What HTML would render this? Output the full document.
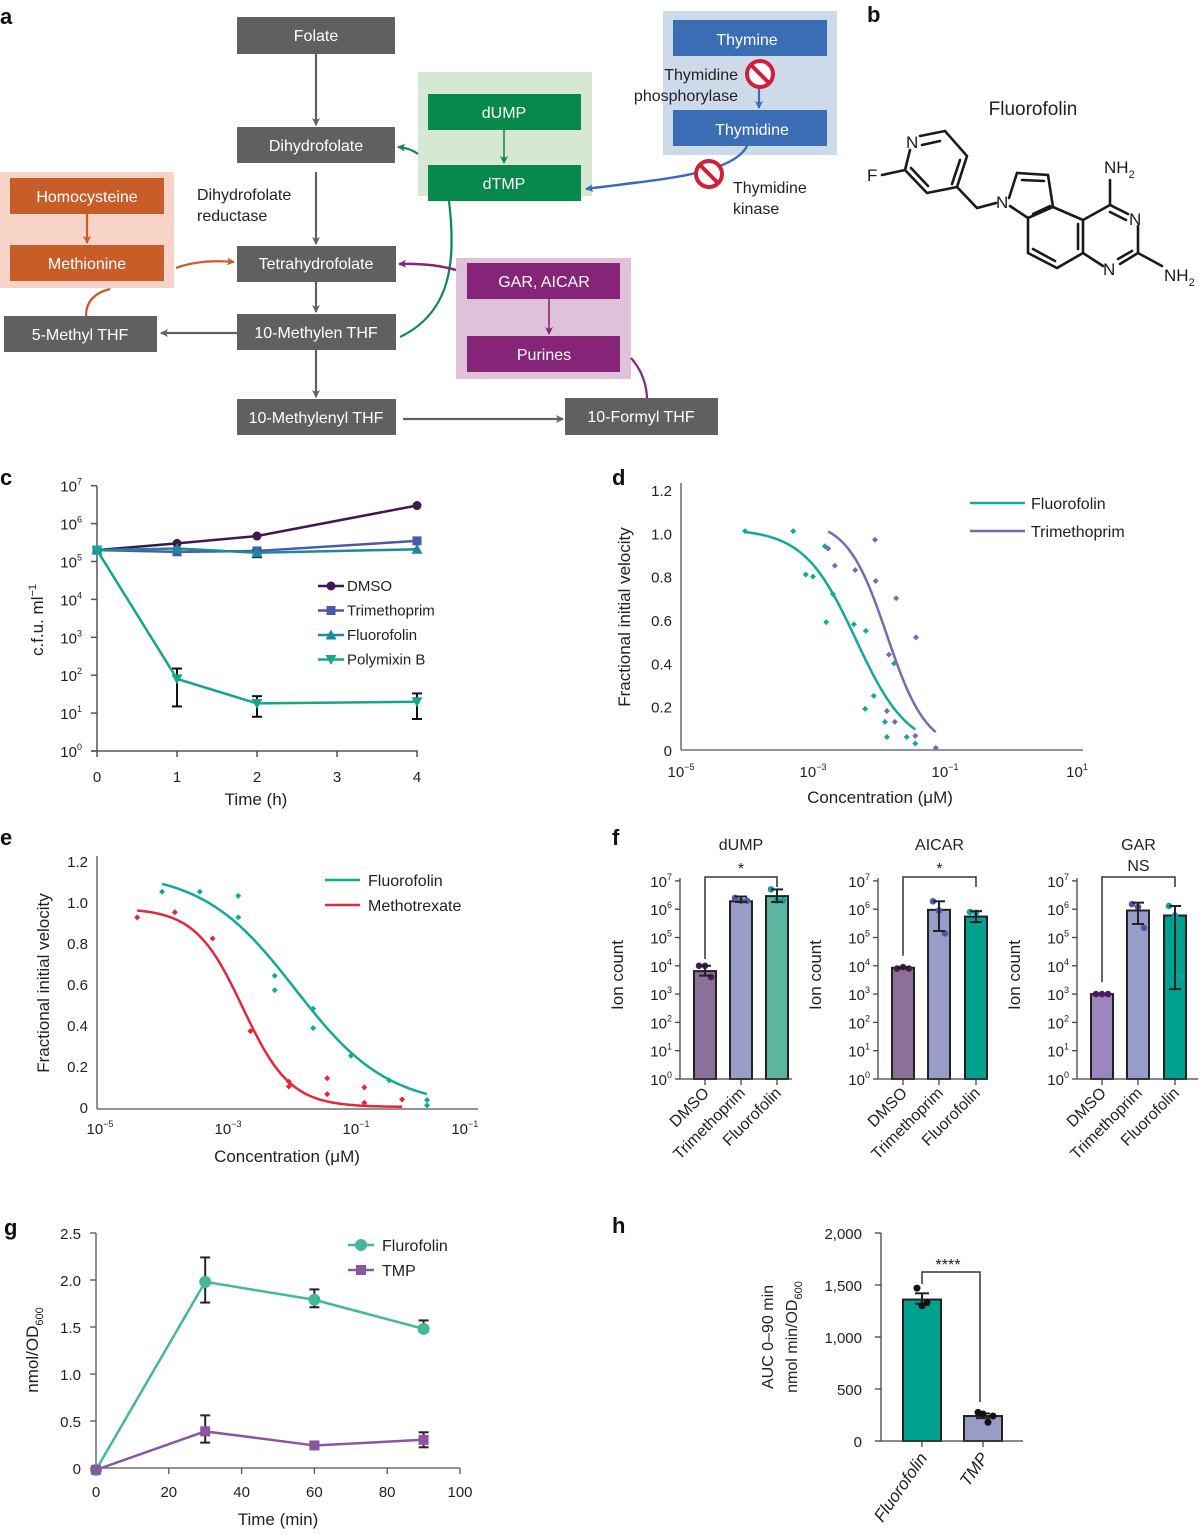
<!DOCTYPE html>
<html><head><meta charset="utf-8"><style>
html,body{margin:0;padding:0;background:#fff;}
svg{display:block;font-family:"Liberation Sans",sans-serif;}
</style></head><body>
<svg id="fig" xmlns="http://www.w3.org/2000/svg" width="1200" height="1535" viewBox="0 0 1200 1535">
<defs>
<marker id="ag" markerWidth="8" markerHeight="8" refX="7" refY="4" orient="auto" markerUnits="userSpaceOnUse"><path d="M0,0 L8,4 L0,8 L2,4 Z" fill="#5f6163"/></marker>
<marker id="ao" markerWidth="8" markerHeight="8" refX="7" refY="4" orient="auto" markerUnits="userSpaceOnUse"><path d="M0,0 L8,4 L0,8 L2,4 Z" fill="#cc5a2a"/></marker>
<marker id="agr" markerWidth="8" markerHeight="8" refX="7" refY="4" orient="auto" markerUnits="userSpaceOnUse"><path d="M0,0 L8,4 L0,8 L2,4 Z" fill="#0f8a4c"/></marker>
<marker id="ab" markerWidth="8" markerHeight="8" refX="7" refY="4" orient="auto" markerUnits="userSpaceOnUse"><path d="M0,0 L8,4 L0,8 L2,4 Z" fill="#3b6cb8"/></marker>
<marker id="ap" markerWidth="8" markerHeight="8" refX="7" refY="4" orient="auto" markerUnits="userSpaceOnUse"><path d="M0,0 L8,4 L0,8 L2,4 Z" fill="#862478"/></marker>
</defs>

<!-- panel labels -->
<g font-weight="bold" font-size="22" fill="#111">
<text x="0" y="24">a</text>
<text x="867" y="22">b</text>
<text x="0" y="485">c</text>
<text x="612" y="485">d</text>
<text x="0" y="845">e</text>
<text x="612" y="845">f</text>
<text x="4" y="1235">g</text>
<text x="612" y="1233">h</text>
</g>

<!-- Panel a: pathway -->
<g>
<rect x="0" y="172" width="174" height="116" fill="#f7d4c7"/>
<rect x="418" y="72" width="174" height="124" fill="#d6e7d4"/>
<rect x="663" y="11" width="174" height="144" fill="#ccdaea"/>
<rect x="456" y="258" width="175" height="121" fill="#e0c1da"/>

<g font-size="16" fill="#fff" text-anchor="middle">
<rect x="237" y="17" width="158" height="37" fill="#5f6062"/><text x="316" y="41">Folate</text>
<rect x="237" y="127" width="158" height="36" fill="#5f6062"/><text x="316" y="151">Dihydrofolate</text>
<rect x="237" y="246" width="159" height="36" fill="#5f6062"/><text x="316" y="269">Tetrahydrofolate</text>
<rect x="237" y="314" width="159" height="36" fill="#5f6062"/><text x="316" y="338">10-Methylen THF</text>
<rect x="237" y="399" width="159" height="36" fill="#5f6062"/><text x="316" y="423">10-Methylenyl THF</text>
<rect x="4" y="316" width="153" height="36" fill="#5f6062"/><text x="80" y="340">5-Methyl THF</text>
<rect x="565" y="398" width="153" height="37" fill="#5f6062"/><text x="641" y="422">10-Formyl THF</text>
<rect x="10" y="178" width="154" height="36" fill="#c85d2a"/><text x="87" y="202">Homocysteine</text>
<rect x="10" y="245" width="154" height="36" fill="#c85d2a"/><text x="87" y="269">Methionine</text>
<rect x="428" y="94" width="153" height="36" fill="#06894a"/><text x="504" y="118">dUMP</text>
<rect x="428" y="165" width="153" height="36" fill="#06894a"/><text x="504" y="189">dTMP</text>
<rect x="673" y="20" width="154" height="36" fill="#3b6db5"/><text x="747" y="45">Thymine</text>
<rect x="673" y="110" width="154" height="36" fill="#3b6db5"/><text x="752" y="135">Thymidine</text>
<rect x="467" y="263" width="153" height="36" fill="#862478"/><text x="544" y="287">GAR, AICAR</text>
<rect x="467" y="336" width="153" height="36" fill="#862478"/><text x="544" y="360">Purines</text>
</g>

<g fill="none" stroke-width="2.2">
<line x1="316" y1="54" x2="316" y2="125" stroke="#5f6163" marker-end="url(#ag)"/>
<line x1="316" y1="172" x2="316" y2="244" stroke="#5f6163" marker-end="url(#ag)"/>
<line x1="316" y1="282" x2="316" y2="312" stroke="#5f6163" marker-end="url(#ag)"/>
<line x1="316" y1="350" x2="316" y2="397" stroke="#5f6163" marker-end="url(#ag)"/>
<line x1="237" y1="333" x2="161" y2="333" stroke="#5f6163" marker-end="url(#ag)"/>
<line x1="403" y1="419" x2="563" y2="419" stroke="#5f6163" marker-end="url(#ag)"/>
<line x1="87" y1="214" x2="87" y2="243" stroke="#cc5a2a" marker-end="url(#ao)"/>
<path d="M176,268 Q200,259 234,262" stroke="#cc5a2a" marker-end="url(#ao)"/>
<path d="M86,316 Q86,295 110,289" stroke="#cc5a2a"/>
<line x1="504" y1="130" x2="504" y2="163" stroke="#0f8a4c" stroke-width="1.6" marker-end="url(#agr)"/>
<path d="M418,154 Q410,148 398,147" stroke="#0f8a4c" marker-end="url(#agr)"/>
<path d="M449,201 C456,260 452,312 400,337" stroke="#0f8a4c"/>
<line x1="759" y1="88" x2="759" y2="108" stroke="#3b6cb8" marker-end="url(#ab)"/>
<path d="M747,146 C732,176 650,180 586,189" stroke="#3b6cb8" stroke-width="2.5" marker-end="url(#ab)"/>
<line x1="549" y1="299" x2="549" y2="334" stroke="#862478" stroke-width="1.6" marker-end="url(#ap)"/>
<path d="M456,270 Q432,263 399,264" stroke="#862478" stroke-width="2.5" marker-end="url(#ap)"/>
<path d="M631,358 Q646,375 647,398" stroke="#862478"/>
</g>
<g><circle cx="760" cy="74" r="13" fill="#fff" stroke="#d11f3a" stroke-width="4"/><line x1="751" y1="65" x2="769" y2="83" stroke="#d11f3a" stroke-width="4"/></g>
<g><circle cx="709" cy="174" r="13" fill="#fff" stroke="#d11f3a" stroke-width="4"/><line x1="700" y1="165" x2="718" y2="183" stroke="#d11f3a" stroke-width="4"/></g>
<g font-size="16" fill="#222">
<text x="197" y="200"><tspan x="197">Dihydrofolate</tspan><tspan x="197" dy="21">reductase</tspan></text>
<text x="738" y="80" text-anchor="end"><tspan x="738">Thymidine</tspan><tspan x="738" dy="21">phosphorylase</tspan></text>
<text x="733" y="193"><tspan x="733">Thymidine</tspan><tspan x="733" dy="21">kinase</tspan></text>
</g>
</g>

<!-- Panel b: structure -->
<g stroke="#1a1a1a" stroke-width="2.6" fill="none" stroke-linecap="round">
<text x="1033" y="115" text-anchor="middle" font-size="19" fill="#222" stroke="none">Fluorofolin</text>
<path d="M920,136 L945,131 L967,156 L957,187 L927,193 L905,170 L910,150"/>
<path d="M922,145 L940,141 M960,160 L952,184 M928,186 L911,168"/>
<path d="M905,170 L882,175"/>
<path d="M957,187 L977,208 L996,203"/>
<path d="M1009,198 L1017,173 L1048,175 L1053,207 L1028,218 L1010,206"/>
<path d="M1022,180 L1044,181 M1033,214 L1050,206"/>
<path d="M1053,207 L1083,220 L1083,253 L1057,268 L1028,253 L1028,218"/>
<path d="M1078,224 L1078,249 M1055,261 L1033,249"/>
<path d="M1083,220 L1110,205 L1128,214 M1138,226 L1138,253 L1120,264 M1103,266 L1083,253"/>
<path d="M1110,212 L1126,220 M1132,251 L1118,259"/>
<path d="M1110,205 L1110,180 M1138,253 L1162,266"/>
<g stroke="none" fill="#1a1a1a" font-size="17">
<text x="906" y="148">N</text>
<text x="867" y="181">F</text>
<text x="996" y="208">N</text>
<text x="1129" y="225">N</text>
<text x="1103" y="275">N</text>
<text x="1104" y="173">NH<tspan font-size="11" dy="5">2</tspan></text>
<text x="1164" y="281">NH<tspan font-size="11" dy="5">2</tspan></text>
</g>
</g>
<g id="charts"></g>
</svg>
<script>
// ---------- data: panel c ----------
const cTimes=[0,1,2,4];
const cDMSO=[2e5,3e5,4.7e5,3e6];
const cTrim=[2e5,1.8e5,1.9e5,3.5e5];
const cFluo=[2e5,2.2e5,1.7e5,2.1e5];
const cPoly=[2e5,80,18,20];
const cPolyLo=[2e5,15,8,7];
const cPolyHi=[2e5,150,28,33];
const cXTicks=[0,1,2,3,4];
const cYExps=[0,1,2,3,4,5,6,7];
// ---------- data: panel d ----------
const dFluoX=[-4.03,-3.30,-2.82,-3.11,-3.0,-2.70,-2.80,-2.38,-2.20,-2.08,-2.21,-1.91,-1.88,-1.58,-1.45,-1.77];
const dFluoY=[1.01,1.01,0.94,0.81,0.80,0.72,0.59,0.58,0.55,0.25,0.19,0.13,0.06,0.06,0.03,0.40];
const dTrimX=[-2.77,-2.67,-2.36,-2.06,-2.05,-1.74,-1.44,-1.85,-1.88,-1.76,-1.45,-1.14];
const dTrimY=[0.93,0.85,0.83,0.97,0.78,0.70,0.52,0.44,0.18,0.13,0.065,0.01];
const dFitTop=[1.02,1.06];
const dFitIC50=[-2.35,-1.88];
const dFitHill=[1.1,1.45];
const dFitFrom=[-4.03,-2.77];
const dFitTo=[-1.45,-1.14];
const dXTicks=[-5,-3,-1,1];
const dYTicks=[0,0.2,0.4,0.6,0.8,1.0,1.2];
// ---------- data: panel e ----------
const eFluoX=[-4.03,-3.44,-2.84,-2.84,-2.27,-2.27,-1.67,-1.67,-1.08,-0.48,0.11,0.11];
const eFluoY=[1.05,1.05,1.03,0.925,0.64,0.57,0.48,0.385,0.25,0.13,0.034,0.008];
const eMtxX=[-4.42,-3.83,-3.24,-2.65,-2.05,-2.05,-1.45,-1.45,-0.87,-0.87,-0.28];
const eMtxY=[0.925,0.95,0.822,0.37,0.124,0.10,0.14,0.063,0.096,0.021,0.037];
const eFitTop=[1.15,0.97];
const eFitIC50=[-1.95,-2.77];
const eFitHill=[0.6,1.17];
const eFitFrom=[-4.03,-4.42];
const eFitTo=[0.11,-0.28];
const eXTicks=[-5,-3,-1,0.7];
const eXTickLabels=['-5','-3','-1','-1'];
const eYTicks=[0,0.2,0.4,0.6,0.8,1.0,1.2];
// ---------- data: panel f ----------
const fTitles=['dUMP','AICAR','GAR'];
const fSig=['*','*','NS'];
const fCats=['DMSO','Trimethoprim','Fluorofolin'];
const fMeans=[[6.5e3,1.9e6,2.9e6],[8.5e3,9.5e5,5.5e5],[1.0e3,9e5,6e5]];
const fLo=[[4.5e3,1.8e6,1.8e6],[8e3,1.7e5,3.5e5],[1.0e3,3e5,1.5e3]];
const fHi=[[1e4,2.8e6,5e6],[9e3,1.9e6,8.5e5],[1.0e3,1.7e6,1.3e6]];
const fDots=[[[1e4,1e4,4e3],[2.5e6,2e6,2e6],[5e6,2e6,2e6]],[[8e3,9e3,8e3],[1.9e6,9e5,1.4e5],[8e5,7.5e5,3e5]],[[1e3,1e3,1e3],[1.5e6,1.2e6,2.2e5],[1.3e6,6e5,4e3]]];
const fYExps=[0,1,2,3,4,5,6,7];
// ---------- data: panel g ----------
const gTimes=[0,30,60,90];
const gFluo=[-0.02,1.98,1.79,1.48];
const gFluoLo=[-0.02,1.76,1.71,1.45];
const gFluoHi=[-0.02,2.24,1.9,1.57];
const gTMP=[-0.02,0.39,0.24,0.30];
const gTMPLo=[-0.02,0.27,0.22,0.22];
const gTMPHi=[-0.02,0.56,0.26,0.38];
const gXTicks=[0,20,40,60,80,100];
const gYTicks=[0,0.5,1.0,1.5,2.0,2.5];
// ---------- data: panel h ----------
const hCats=['Fluorofolin','TMP'];
const hMeans=[1360,240];
const hErrLo=[1320,220];
const hErrHi=[1420,265];
const hDots=[[1470,1300,1330],[275,260,180,240]];
const hYTicks=[0,500,1000,1500,2000];
const hYLabels=['0','500','1,000','1,500','2,000'];

const NS='http://www.w3.org/2000/svg';
const root=document.getElementById('charts');
function E(tag,attrs,parent,name){
  const el=document.createElementNS(NS,tag);
  for(const k in attrs) el.setAttribute(k,attrs[k]);
  
  
  (parent||root).appendChild(el);
  return el;
}
function T(x,y,txt,size,anchor,parent,name,extra){
  const a=Object.assign({x:x,y:y,'font-size':size,'text-anchor':anchor||'middle',fill:'#222'},extra||{});
  const t=E('text',a,parent,name); t.textContent=txt; return t;
}
function pow(x,y,exp,size,anchor,parent,name){
  const t=E('text',{x:x,y:y,'font-size':size,'text-anchor':anchor,fill:'#222'},parent,name);
  t.appendChild(document.createTextNode('10'));
  const s=document.createElementNS(NS,'tspan');
  s.setAttribute('dy','-7'); s.setAttribute('font-size',Math.round(size*0.62));
  s.textContent=exp; t.appendChild(s); return t;
}
function marker(type,x,y,r,color,parent,name){
  if(type==='circle') return E('circle',{cx:x,cy:y,r:r,fill:color},parent,name);
  if(type==='square') return E('rect',{x:x-r,y:y-r,width:2*r,height:2*r,fill:color},parent,name);
  if(type==='up') return E('path',{d:`M${x},${y-r-1} L${x+r+1},${y+r} L${x-r-1},${y+r} Z`,fill:color},parent,name);
  if(type==='down') return E('path',{d:`M${x},${y+r+1} L${x+r+1},${y-r} L${x-r-1},${y-r} Z`,fill:color},parent,name);
  return E('path',{d:`M${x},${y-r} L${x+r},${y} L${x},${y+r} L${x-r},${y} Z`,fill:color},parent,name);
}
function errbar(x,y1,y2,cap,parent,name,color,w){
  const g=E('g',{stroke:color||'#111','stroke-width':w||2},parent,name);
  E('line',{x1:x,y1:y1,x2:x,y2:y2},g,'error-stem');
  E('line',{x1:x-cap,y1:y1,x2:x+cap,y2:y1},g,'error-cap');
  E('line',{x1:x-cap,y1:y2,x2:x+cap,y2:y2},g,'error-cap');
}
function polyline(pts,color,w,parent,name){
  return E('polyline',{points:pts.map(p=>p.join(',')).join(' '),fill:'none',stroke:color,'stroke-width':w,'stroke-linejoin':'round'},parent,name);
}
function hill(x,top,ic,h){return top/(1+Math.pow(10,h*(x-ic)));}

// ================= Panel c =================
(function(){
  const g=E('g',{},root,'panel-c-chart');
  const X=t=>97+80*t, Y=v=>751-37.9*Math.log10(v);
  E('line',{x1:97,y1:486,x2:97,y2:751,stroke:'#555','stroke-width':1.5},g,'y-axis');
  E('line',{x1:91,y1:751,x2:418,y2:751,stroke:'#555','stroke-width':1.5},g,'x-axis');
  cYExps.forEach(e=>{E('line',{x1:91,y1:Y(Math.pow(10,e)),x2:97,y2:Y(Math.pow(10,e)),stroke:'#555','stroke-width':1.5},g,'y-tick');
    pow(82,Y(Math.pow(10,e))+6,String(e),15,'end',g,'y-tick-label');});
  cXTicks.forEach(t=>{E('line',{x1:X(t),y1:751,x2:X(t),y2:757,stroke:'#555','stroke-width':1.5},g,'x-tick');
    T(X(t),782,String(t),15,'middle',g,'x-tick-label');});
  T(256,805,'Time (h)',17,'middle',g,'x-axis-title');
  const yl=T(0,0,'c.f.u. ml',17,'middle',g,'y-axis-title',{transform:'translate(43,620) rotate(-90)'});
  const s=document.createElementNS(NS,'tspan'); s.setAttribute('dy','-7'); s.setAttribute('font-size','11'); s.textContent='−1'; yl.appendChild(s);
  const series=[[cDMSO,'#3f1751','circle','dmso'],[cTrim,'#4b5aa6','square','trimethoprim'],[cFluo,'#1d8a9c','up','fluorofolin'],[cPoly,'#16a58a','down','polymyxin-b']];
  // polymyxin errors
  cTimes.forEach((t,i)=>{if(i>0) errbar(X(t),Y(cPolyLo[i]),Y(cPolyHi[i]),5,g,'polymyxin-error-bar');});
  errbar(X(2),Y(1.3e5),Y(2.0e5),5,g,'fluorofolin-error-bar');
  series.forEach(s=>{
    const sg=E('g',{},g,'series-'+s[3]);
    polyline(cTimes.map((t,i)=>[X(t),Y(s[0][i])]),s[1],2.5,sg,s[3]+'-line');
    cTimes.forEach((t,i)=>marker(s[2],X(t),Y(s[0][i]),4.5,s[1],sg,s[3]+'-point'));
  });
  const labels=['DMSO','Trimethoprim','Fluorofolin','Polymixin B'];
  series.forEach((s,i)=>{const y=586+i*24.5;
    const lg=E('g',{},g,'legend-entry-'+s[3]);
    E('line',{x1:318,y1:y,x2:344,y2:y,stroke:s[1],'stroke-width':2.5},lg,'legend-line');
    marker(s[2],331,y,4.5,s[1],lg,'legend-marker');
    T(347,y+5,labels[i],15,'start',lg,'legend-label');});
})();

// ================= Panel d =================
(function(){
  const g=E('g',{},root,'panel-d-chart');
  const X=l=>681+66*(l+5), Y=v=>750-216.7*v;
  E('line',{x1:681,y1:483,x2:681,y2:750,stroke:'#555','stroke-width':1.3},g,'y-axis');
  E('line',{x1:681,y1:750,x2:1083,y2:750,stroke:'#555','stroke-width':1.3},g,'x-axis');
  dYTicks.forEach(v=>T(672,Y(v)+6,v===0?'0':v.toFixed(1),15,'end',g,'y-tick-label'));
  dXTicks.forEach(l=>pow(X(l),777,(l<0?'−':'')+Math.abs(l),15,'middle',g,'x-tick-label'));
  T(880,803,'Concentration (μM)',17,'middle',g,'x-axis-title');
  T(0,0,'Fractional initial velocity',17,'middle',g,'y-axis-title',{transform:'translate(630,617) rotate(-90)'});
  const cols=['#10a99a','#7b68b0'], nm=['fluorofolin','trimethoprim'];
  [0,1].forEach(k=>{
    const pts=[]; for(let i=0;i<=60;i++){const x=dFitFrom[k]+(dFitTo[k]-dFitFrom[k])*i/60; pts.push([X(x),Y(hill(x,dFitTop[k],dFitIC50[k],dFitHill[k]))]);}
    polyline(pts,cols[k],2.5,g,nm[k]+'-fit-curve');
  });
  dFluoX.forEach((x,i)=>marker('diamond',X(x),Y(dFluoY[i]),3,cols[0],g,'fluorofolin-point'));
  dTrimX.forEach((x,i)=>marker('diamond',X(x),Y(dTrimY[i]),3,cols[1],g,'trimethoprim-point'));
  ['Fluorofolin','Trimethoprim'].forEach((t,i)=>{const y=503+i*28;
    const lg=E('g',{},g,'legend-entry-'+nm[i]);
    E('line',{x1:970,y1:y,x2:1025,y2:y,stroke:cols[i],'stroke-width':2.5},lg,'legend-line');
    T(1031,y+6,t,16,'start',lg,'legend-label');});
})();

// ================= Panel e =================
(function(){
  const g=E('g',{},root,'panel-e-chart');
  const X=l=>100+64*(l+5), Y=v=>1107-205*v;
  E('line',{x1:97,y1:856,x2:97,y2:1109,stroke:'#555','stroke-width':1.3},g,'y-axis');
  E('line',{x1:97,y1:1109,x2:478,y2:1109,stroke:'#555','stroke-width':1.3},g,'x-axis');
  eYTicks.forEach(v=>T(88,Y(v)+6,v===0?'0':v.toFixed(1),15,'end',g,'y-tick-label'));
  eXTicks.forEach((l,i)=>pow(X(l),1134,eXTickLabels[i].replace('-','−'),15,'middle',g,'x-tick-label'));
  T(287,1162,'Concentration (μM)',17,'middle',g,'x-axis-title');
  T(0,0,'Fractional initial velocity',17,'middle',g,'y-axis-title',{transform:'translate(49,983) rotate(-90)'});
  const cols=['#10a99a','#e5273b'], nm=['fluorofolin','methotrexate'];
  [0,1].forEach(k=>{
    const pts=[]; for(let i=0;i<=60;i++){const x=eFitFrom[k]+(eFitTo[k]-eFitFrom[k])*i/60; pts.push([X(x),Y(hill(x,eFitTop[k],eFitIC50[k],eFitHill[k]))]);}
    polyline(pts,cols[k],2.5,g,nm[k]+'-fit-curve');
  });
  eFluoX.forEach((x,i)=>marker('diamond',X(x),Y(eFluoY[i]),3,cols[0],g,'fluorofolin-point'));
  eMtxX.forEach((x,i)=>marker('diamond',X(x),Y(eMtxY[i]),3,cols[1],g,'methotrexate-point'));
  ['Fluorofolin','Methotrexate'].forEach((t,i)=>{const y=880+i*25;
    const lg=E('g',{},g,'legend-entry-'+nm[i]);
    E('line',{x1:325,y1:y,x2:360,y2:y,stroke:cols[i],'stroke-width':2.5},lg,'legend-line');
    T(368,y+6,t,16,'start',lg,'legend-label');});
})();

// ================= Panel f =================
(function(){
  const axX=[680,878,1077], cx=[[705,741,777],[903,939,976],[1102,1138,1175]], axEnd=[792,988,1198];
  const barCols=[['#8b7098','#9a9cc8','#5bb6a0'],['#8b7098','#9a9cc8','#00a08e'],['#9b86bd','#9a9cc8','#00a08e']];
  const dotCols=['#4a1c5c','#4c58a8','#14a0a0'];
  const Y=v=>1079-28.3*Math.log10(v);
  fTitles.forEach((title,p)=>{
    const g=E('g',{},root,'panel-f-'+title.toLowerCase());
    const x0=axX[p];
    cx[p].forEach((x,i)=>{
      E('rect',{x:x-11,y:Y(fMeans[p][i]),width:22,height:1079-Y(fMeans[p][i]),fill:barCols[p][i],stroke:'#222','stroke-width':2},g,'bar-'+fCats[i].toLowerCase());
      fDots[p][i].forEach((d,j)=>E('circle',{cx:x+(j-1)*6,cy:Y(d),r:3.3,fill:dotCols[i]},g,'replicate-dot'));
      if(fHi[p][i]/fLo[p][i]>1.05) errbar(x,Y(fLo[p][i]),Y(fHi[p][i]),6,g,'error-bar','#222',2);
      E('line',{x1:x,y1:1079,x2:x,y2:1085,stroke:'#444','stroke-width':1.3},g,'x-tick');
      T(0,0,fCats[i],16,'end',g,'x-tick-label-'+fCats[i].toLowerCase(),{transform:`translate(${x+5},${1094}) rotate(-45)`});
    });
    E('line',{x1:x0,y1:878,x2:x0,y2:1079,stroke:'#444','stroke-width':1.3},g,'y-axis');
    E('line',{x1:x0,y1:1079,x2:axEnd[p],y2:1079,stroke:'#444','stroke-width':1.3},g,'x-axis');
    fYExps.forEach(e=>{const y=Y(Math.pow(10,e));
      E('line',{x1:x0-5,y1:y,x2:x0,y2:y,stroke:'#444','stroke-width':1.3},g,'y-tick');
      pow(x0-8,y+6,String(e),15,'end',g,'y-tick-label');});
    T(0,0,'Ion count',17,'middle',g,'y-axis-title',{transform:`translate(${x0-57},975) rotate(-90)`});
    const by=877;
    E('polyline',{points:`${cx[p][0]},${Y(fMeans[p][0])-12} ${cx[p][0]},${by} ${cx[p][2]},${by} ${cx[p][2]},${by+10}`,fill:'none',stroke:'#333','stroke-width':1.5},g,'significance-bracket');
    T((cx[p][0]+cx[p][2])/2,850,title,16,'middle',g,'subplot-title');
    T((cx[p][0]+cx[p][2])/2,fSig[p]==='*'?874:871,fSig[p],16,'middle',g,'significance-label');
  });
})();

// ================= Panel g =================
(function(){
  const g=E('g',{},root,'panel-g-chart');
  const X=t=>96+3.64*t, Y=v=>1468-94*v;
  E('line',{x1:96,y1:1233,x2:96,y2:1468,stroke:'#555','stroke-width':1.3},g,'y-axis');
  E('line',{x1:96,y1:1468,x2:460,y2:1468,stroke:'#555','stroke-width':1.3},g,'x-axis');
  gYTicks.forEach(v=>{E('line',{x1:90,y1:Y(v),x2:96,y2:Y(v),stroke:'#555','stroke-width':1.3},g,'y-tick');
    T(81,Y(v)+6,v===0?'0':v.toFixed(1),15,'end',g,'y-tick-label');});
  gXTicks.forEach(t=>{E('line',{x1:X(t),y1:1468,x2:X(t),y2:1474,stroke:'#555','stroke-width':1.3},g,'x-tick');
    T(X(t),1497,String(t),15,'middle',g,'x-tick-label');});
  T(278,1525,'Time (min)',17,'middle',g,'x-axis-title');
  const yl=T(0,0,'nmol/OD',17,'middle',g,'y-axis-title',{transform:'translate(38,1350) rotate(-90)'});
  const s=document.createElementNS(NS,'tspan'); s.setAttribute('dy','5'); s.setAttribute('font-size','11'); s.textContent='600'; yl.appendChild(s);
  const ser=[[gFluo,gFluoLo,gFluoHi,'#45b79a','circle','fluorofolin'],[gTMP,gTMPLo,gTMPHi,'#8a55a3','square','tmp']];
  ser.forEach(sr=>{
    const sg=E('g',{},g,'series-'+sr[5]);
    gTimes.forEach((t,i)=>{if(sr[2][i]-sr[1][i]>0.01) errbar(X(t),Y(sr[1][i]),Y(sr[2][i]),5,sg,'error-bar','#222',2);});
    polyline(gTimes.map((t,i)=>[X(t),Y(sr[0][i])]),sr[3],2.5,sg,sr[5]+'-line');
    gTimes.forEach((t,i)=>marker(sr[4],X(t),Y(sr[0][i]),sr[4]==='circle'?6:5,sr[3],sg,sr[5]+'-point'));
  });
  ['Flurofolin','TMP'].forEach((t,i)=>{const y=1245+i*25;
    const lg=E('g',{},g,'legend-entry-'+ser[i][5]);
    E('line',{x1:348,y1:y,x2:374,y2:y,stroke:ser[i][3],'stroke-width':2.5},lg,'legend-line');
    marker(ser[i][4],361,y,ser[i][4]==='circle'?6:5,ser[i][3],lg,'legend-marker');
    T(382,y+6,t,16,'start',lg,'legend-label');});
})();

// ================= Panel h =================
(function(){
  const g=E('g',{},root,'panel-h-chart');
  const Y=v=>1441-0.104*v, cx=[922,983], cols=['#00a08e','#9a9cc8'];
  hCats.forEach((c,i)=>{
    E('rect',{x:cx[i]-19,y:Y(hMeans[i]),width:38,height:1441-Y(hMeans[i]),fill:cols[i],stroke:'#222','stroke-width':2},g,'bar-'+c.toLowerCase());
    errbar(cx[i],Y(hErrLo[i]),Y(hErrHi[i]),7,g,'error-bar','#222',2);
    hDots[i].forEach((d,j)=>E('circle',{cx:cx[i]+(j-1)*5,cy:Y(d),r:3.5,fill:'#111'},g,'replicate-dot'));
    E('line',{x1:cx[i],y1:1441,x2:cx[i],y2:1447,stroke:'#444','stroke-width':1.3},g,'x-tick');
    T(0,0,c,17,'end',g,'x-tick-label-'+c.toLowerCase(),{transform:`translate(${cx[i]+6},${1458}) rotate(-55)`,'font-style':'italic'});
  });
  E('line',{x1:881,y1:1233,x2:881,y2:1441,stroke:'#444','stroke-width':1.3},g,'y-axis');
  E('line',{x1:881,y1:1441,x2:1023,y2:1441,stroke:'#444','stroke-width':1.3},g,'x-axis');
  hYTicks.forEach((v,i)=>{E('line',{x1:875,y1:Y(v),x2:881,y2:Y(v),stroke:'#444','stroke-width':1.3},g,'y-tick');
    T(862,Y(v)+6,hYLabels[i],15,'end',g,'y-tick-label');});
  E('polyline',{points:`${cx[0]},1284 ${cx[0]},1272 ${cx[1]-3},1272 ${cx[1]-3},1402`,fill:'none',stroke:'#333','stroke-width':1.5},g,'significance-bracket');
  T(948,1270,'****',16,'middle',g,'significance-label');
  T(0,0,'AUC 0–90 min',16,'middle',g,'y-axis-title-line1',{transform:'translate(773,1337) rotate(-90)'});
  const yl=T(0,0,'nmol min/OD',16,'middle',g,'y-axis-title-line2',{transform:'translate(797,1337) rotate(-90)'});
  const s=document.createElementNS(NS,'tspan'); s.setAttribute('dy','5'); s.setAttribute('font-size','11'); s.textContent='600'; yl.appendChild(s);
})();
</script>
</body></html>
